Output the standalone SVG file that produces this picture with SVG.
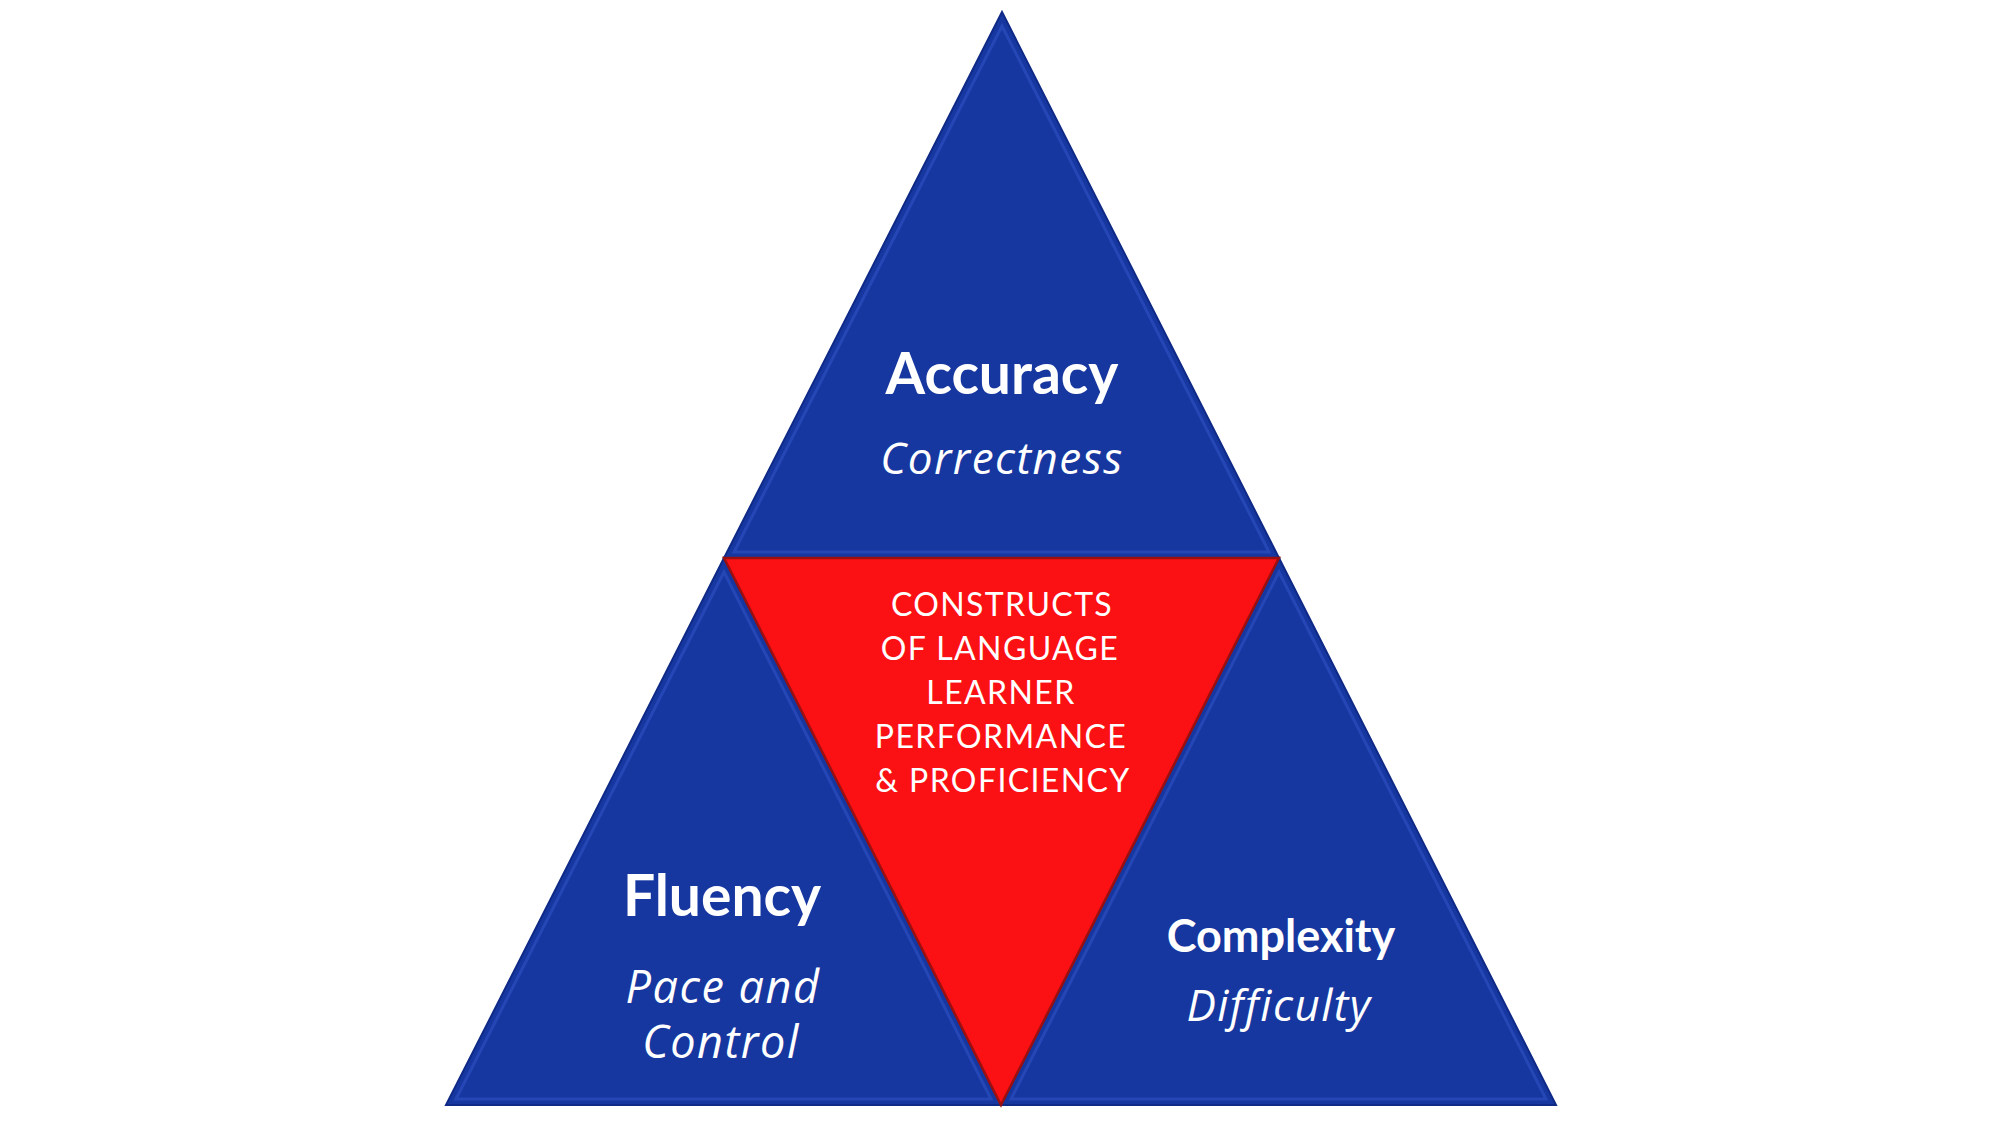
<svg xmlns="http://www.w3.org/2000/svg" width="1999" height="1124" viewBox="0 0 1999 1124">
<defs>
<style>
.blue{fill:#1737a0;stroke:#0f2a86;stroke-width:2;stroke-linejoin:miter}
.bevel{fill:none;stroke:#2c4fbf;stroke-width:3;opacity:0.7}
.red{fill:#fb1014;stroke:#9a1010;stroke-width:2.5}
.h{font-family:Lato,"Open Sans","Liberation Sans",sans-serif;font-weight:bold;fill:#ffffff;text-anchor:middle}
.s{font-family:"Open Sans",Lato,"Liberation Sans",sans-serif;font-style:italic;fill:#ffffff;text-anchor:middle;letter-spacing:1.5px}
.c{font-family:Lato,"Open Sans","Liberation Sans",sans-serif;fill:#ffffff;text-anchor:middle;font-size:32px;letter-spacing:1.4px}
</style>
</defs>
<rect width="1999" height="1124" fill="#ffffff"/>
<g id="accuracy">
<polygon class="blue" points="1002,12 724,558 1279,558"/>
<polygon class="bevel" points="1002,26 734,552 1269,552"/>
<text class="h" x="1002" y="394" font-size="57">Accuracy</text>
<text class="s" x="1002" y="474" font-size="44">Correctness</text>
</g>
<g id="fluency">
<polygon class="blue" points="724,558 446,1105 1001,1105"/>
<polygon class="bevel" points="724,572 456,1099 991,1099"/>
<text class="h" x="722" y="916" font-size="57">Fluency</text>
<text class="s" x="723" y="1003" font-size="45">Pace and</text>
<text class="s" x="721" y="1058" font-size="45">Control</text>
</g>
<g id="complexity">
<polygon class="blue" points="1279,558 1001,1105 1556,1105"/>
<polygon class="bevel" points="1279,572 1011,1099 1546,1099"/>
<text class="h" x="1281" y="952" font-size="45">Complexity</text>
<text class="s" x="1279" y="1021" font-size="44">Difficulty</text>
</g>
<g id="constructs">
<polygon class="red" points="724,558 1279,558 1001,1105"/>
<text class="c" x="1002" y="616">CONSTRUCTS</text>
<text class="c" x="1000" y="660">OF LANGUAGE</text>
<text class="c" x="1001" y="704">LEARNER</text>
<text class="c" x="1001" y="748">PERFORMANCE</text>
<text class="c" x="1003" y="792">&amp; PROFICIENCY</text>
</g>
<g id="connectors"></g>
</svg>
